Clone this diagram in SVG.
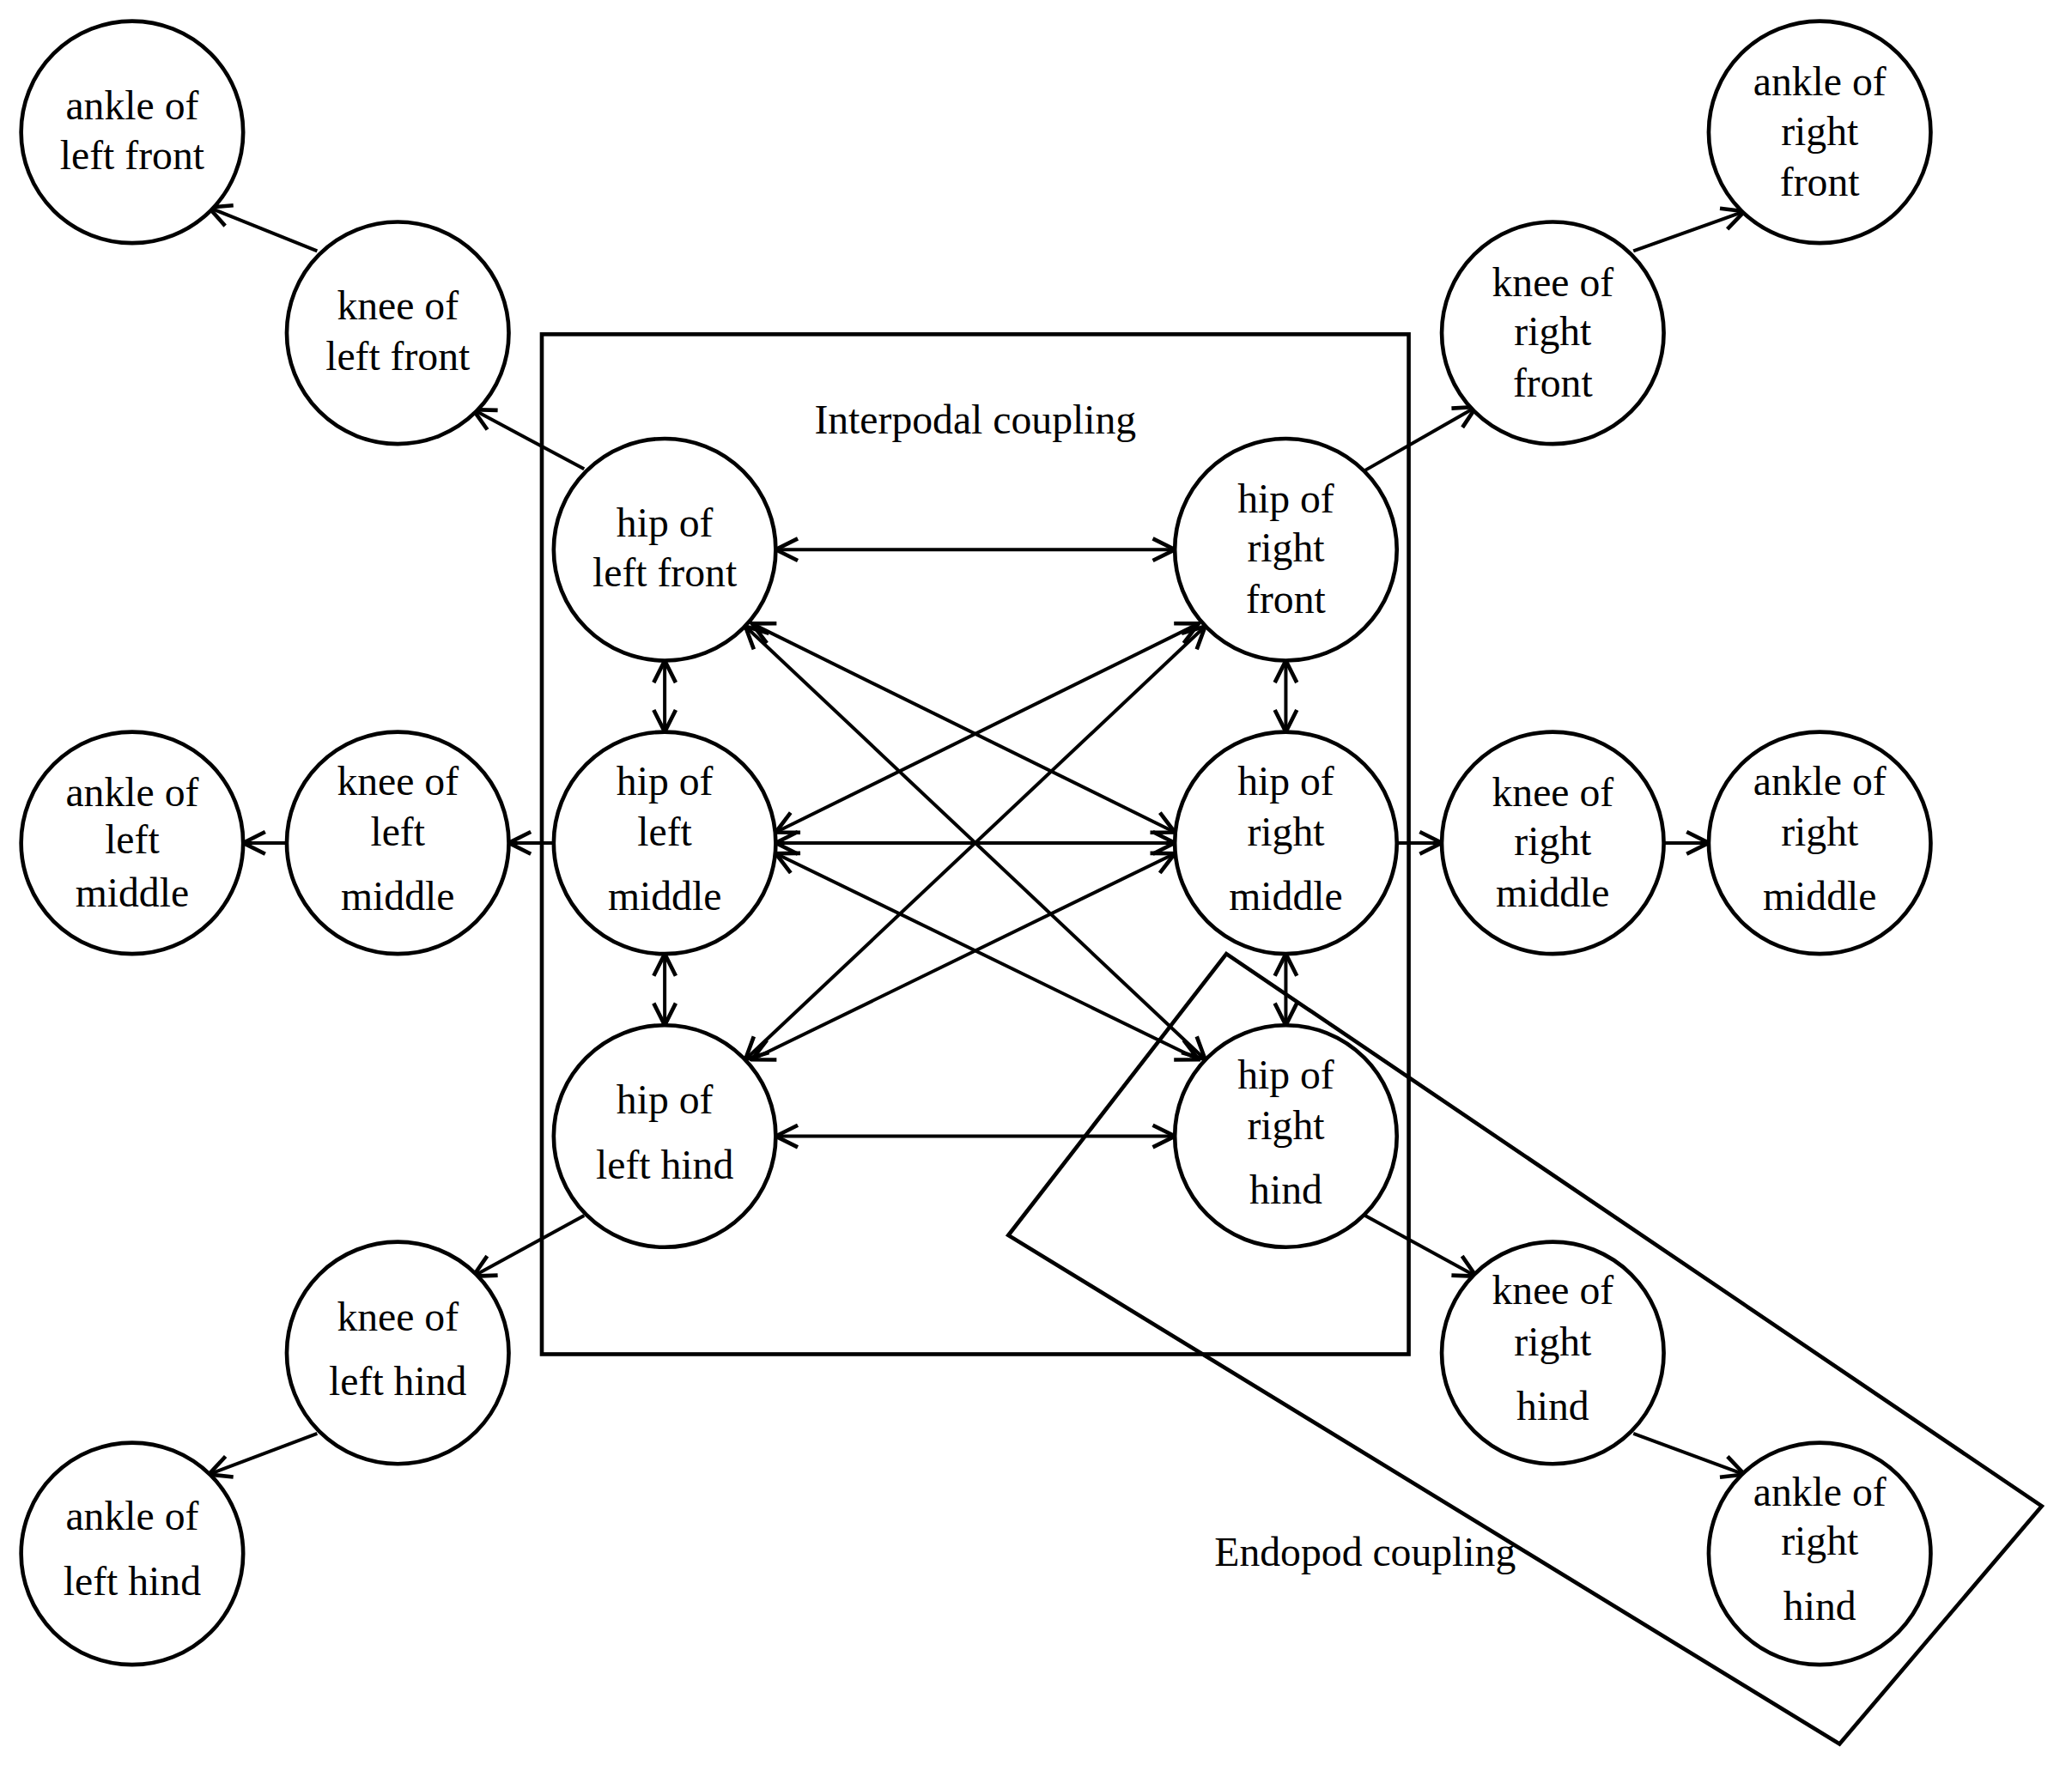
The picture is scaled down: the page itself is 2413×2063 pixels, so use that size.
<svg xmlns="http://www.w3.org/2000/svg" width="2413" height="2063" viewBox="0 0 2413 2063">
<style>
.n circle{fill:#fff;stroke:#000;stroke-width:3}
text{font-family:"Liberation Serif","Times New Roman",serif;font-size:31px;fill:#000;text-anchor:middle}
.c line{stroke:#000;stroke-width:2.6;marker-end:url(#a)}
.c line.d{marker-start:url(#b)}
.box{fill:none;stroke:#000;stroke-width:3}
</style>
<defs>
<marker id="a" viewBox="0 0 12 12" refX="11" refY="6" markerWidth="20" markerHeight="20" markerUnits="userSpaceOnUse" orient="auto"><path d="M1,1 L11,6 L1,11" fill="none" stroke="#000" stroke-width="1.8"/></marker>
<marker id="b" viewBox="0 0 12 12" refX="1" refY="6" markerWidth="20" markerHeight="20" markerUnits="userSpaceOnUse" orient="auto"><path d="M11,1 L1,6 L11,11" fill="none" stroke="#000" stroke-width="1.8"/></marker>
</defs>
<rect width="2413" height="2063" fill="#fff"/>
<g transform="scale(1.539)">
<rect class="box" x="410" y="253" width="656" height="772"/>
<polygon class="box" points="928,722 1545,1140 1392,1320 763,935"/>
<text x="738" y="328">Interpodal coupling</text>
<text x="1033" y="1185">Endopod coupling</text>
<g class="c">
<line x1="240" y1="190" x2="158" y2="157"/>
<line x1="442" y1="355" x2="358" y2="310"/>
<line x1="1033" y1="356" x2="1117" y2="308"/>
<line x1="1236" y1="190" x2="1320" y2="160"/>
<line x1="217" y1="638" x2="184" y2="638"/>
<line x1="419" y1="638" x2="385" y2="638"/>
<line x1="1057" y1="638" x2="1091" y2="638"/>
<line x1="1259" y1="638" x2="1293" y2="638"/>
<line x1="442" y1="920" x2="358" y2="966"/>
<line x1="240" y1="1085" x2="158" y2="1116"/>
<line x1="1033" y1="920" x2="1117" y2="966"/>
<line x1="1236" y1="1085" x2="1320" y2="1116"/>
<line class="d" x1="587" y1="416" x2="889" y2="416"/>
<line class="d" x1="587" y1="638" x2="889" y2="638"/>
<line class="d" x1="587" y1="860" x2="889" y2="860"/>
<line class="d" x1="503" y1="500" x2="503" y2="554"/>
<line class="d" x1="503" y1="722" x2="503" y2="776"/>
<line class="d" x1="973" y1="500" x2="973" y2="554"/>
<line class="d" x1="973" y1="722" x2="973" y2="776"/>
<line class="d" x1="569" y1="472" x2="889" y2="630"/>
<line class="d" x1="564" y1="474" x2="912" y2="802"/>
<line class="d" x1="587" y1="630" x2="907" y2="472"/>
<line class="d" x1="587" y1="646" x2="907" y2="802"/>
<line class="d" x1="564" y1="802" x2="912" y2="474"/>
<line class="d" x1="569" y1="802" x2="889" y2="646"/>
</g>
<g id="ankle-lf" class="n"><circle cx="100" cy="100" r="84"/><text x="100" y="90">ankle of</text><text x="100" y="128">left front</text></g>
<g id="knee-lf" class="n"><circle cx="301" cy="252" r="84"/><text x="301" y="242">knee of</text><text x="301" y="280">left front</text></g>
<g id="hip-lf" class="n"><circle cx="503" cy="416" r="84"/><text x="503" y="406">hip of</text><text x="503" y="444">left front</text></g>
<g id="hip-rf" class="n"><circle cx="973" cy="416" r="84"/><text x="973" y="388">hip of</text><text x="973" y="425">right</text><text x="973" y="464">front</text></g>
<g id="knee-rf" class="n"><circle cx="1175" cy="252" r="84"/><text x="1175" y="224">knee of</text><text x="1175" y="261">right</text><text x="1175" y="300">front</text></g>
<g id="ankle-rf" class="n"><circle cx="1377" cy="100" r="84"/><text x="1377" y="72">ankle of</text><text x="1377" y="110">right</text><text x="1377" y="148">front</text></g>
<g id="ankle-lm" class="n"><circle cx="100" cy="638" r="84"/><text x="100" y="610">ankle of</text><text x="100" y="646">left</text><text x="100" y="686">middle</text></g>
<g id="knee-lm" class="n"><circle cx="301" cy="638" r="84"/><text x="301" y="602">knee of</text><text x="301" y="640">left</text><text x="301" y="689">middle</text></g>
<g id="hip-lm" class="n"><circle cx="503" cy="638" r="84"/><text x="503" y="602">hip of</text><text x="503" y="640">left</text><text x="503" y="689">middle</text></g>
<g id="hip-rm" class="n"><circle cx="973" cy="638" r="84"/><text x="973" y="602">hip of</text><text x="973" y="640">right</text><text x="973" y="689">middle</text></g>
<g id="knee-rm" class="n"><circle cx="1175" cy="638" r="84"/><text x="1175" y="610">knee of</text><text x="1175" y="647">right</text><text x="1175" y="686">middle</text></g>
<g id="ankle-rm" class="n"><circle cx="1377" cy="638" r="84"/><text x="1377" y="602">ankle of</text><text x="1377" y="640">right</text><text x="1377" y="689">middle</text></g>
<g id="hip-lh" class="n"><circle cx="503" cy="860" r="84"/><text x="503" y="843">hip of</text><text x="503" y="892">left hind</text></g>
<g id="hip-rh" class="n"><circle cx="973" cy="860" r="84"/><text x="973" y="824">hip of</text><text x="973" y="862">right</text><text x="973" y="911">hind</text></g>
<g id="knee-lh" class="n"><circle cx="301" cy="1024" r="84"/><text x="301" y="1007">knee of</text><text x="301" y="1056">left hind</text></g>
<g id="ankle-lh" class="n"><circle cx="100" cy="1176" r="84"/><text x="100" y="1158">ankle of</text><text x="100" y="1207">left hind</text></g>
<g id="knee-rh" class="n"><circle cx="1175" cy="1024" r="84"/><text x="1175" y="987">knee of</text><text x="1175" y="1026">right</text><text x="1175" y="1075">hind</text></g>
<g id="ankle-rh" class="n"><circle cx="1377" cy="1176" r="84"/><text x="1377" y="1140">ankle of</text><text x="1377" y="1177">right</text><text x="1377" y="1226">hind</text></g>
</g>
</svg>
